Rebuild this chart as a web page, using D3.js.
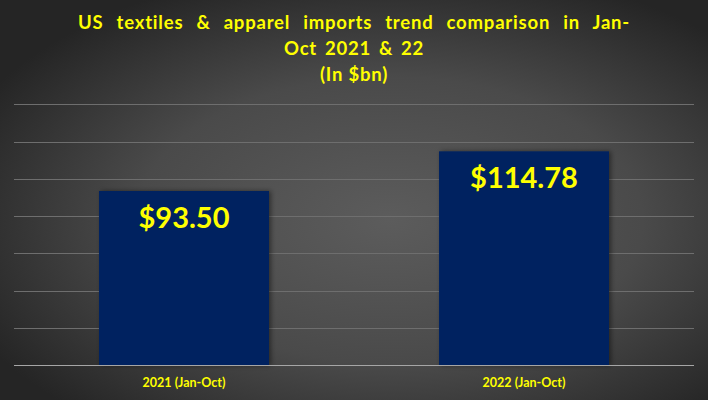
<!DOCTYPE html>
<html>
<head>
<meta charset="utf-8">
<script src="https://cdn.jsdelivr.net/npm/d3@7"></script>
<style>
  html, body { margin: 0; padding: 0; background: #333; }
  svg { display: block; }
</style>
</head>
<body>
<div id="chart"></div>
<script>
// Data
const categories = ["2021 (Jan-Oct)", "2022 (Jan-Oct)"];
const values = [93.50, 114.78];
const valueLabels = ["$93.50", "$114.78"];
const yTicks = [0, 20, 40, 60, 80, 100, 120, 140];
const titleLines = [
    "US textiles & apparel imports trend comparison in Jan-",
    "Oct 2021 & 22",
    "(In $bn)"
];
// approximate widths of the justified title lines in the original (0 = leave as is)
const titleWidths = [552, 140, 0];

const width = 708, height = 400;
const margin = { top: 104.3, right: 14, bottom: 34.7, left: 14 };
const yellow = "#ffff00";

const svg = d3.select("#chart")
    .append("svg")
    .attr("width", width)
    .attr("height", height);

// Background gradient
const defs = svg.append("defs");
const grad = defs.append("radialGradient")
    .attr("id", "bg")
    .attr("cx", "55%").attr("cy", "55%").attr("r", "65%");
grad.append("stop").attr("offset", "0%").attr("stop-color", "#5c5c5c");
grad.append("stop").attr("offset", "55%").attr("stop-color", "#4a4a4a");
grad.append("stop").attr("offset", "100%").attr("stop-color", "#252525");

const shadow = defs.append("filter").attr("id", "shadow")
    .attr("x", "-10%").attr("y", "-10%").attr("width", "120%").attr("height", "120%");
shadow.append("feDropShadow")
    .attr("dx", 2).attr("dy", 0).attr("stdDeviation", 2.5)
    .attr("flood-color", "#000").attr("flood-opacity", 0.45);

svg.append("rect")
    .attr("width", width).attr("height", height)
    .attr("fill", "url(#bg)");

// Scales
const x = d3.scaleBand()
    .domain(categories)
    .range([margin.left, width - margin.right])
    .paddingInner(0.5)
    .paddingOuter(0.25);

const y = d3.scaleLinear()
    .domain([0, 140])
    .range([height - margin.bottom, margin.top]);

// Gridlines
svg.append("g")
    .selectAll("line")
    .data(yTicks.slice(1))
    .enter()
    .append("line")
    .attr("x1", margin.left)
    .attr("x2", width - margin.right)
    .attr("y1", d => Math.round(y(d)) + 0.5)
    .attr("y2", d => Math.round(y(d)) + 0.5)
    .attr("stroke", "#6e6e6e")
    .attr("stroke-width", 1);

// Bars
svg.append("g")
    .selectAll("rect")
    .data(values)
    .enter()
    .append("rect")
    .attr("x", (d, i) => x(categories[i]))
    .attr("y", d => y(d))
    .attr("width", x.bandwidth())
    .attr("height", d => y(0) - y(d))
    .attr("fill", "#002060")
    .attr("filter", "url(#shadow)");

// Baseline
svg.append("line")
    .attr("x1", margin.left)
    .attr("x2", width - margin.right)
    .attr("y1", Math.round(y(0)) + 0.5)
    .attr("y2", Math.round(y(0)) + 0.5)
    .attr("stroke", "#a6a6a6")
    .attr("stroke-width", 1);

// Value labels inside bars
svg.append("g")
    .selectAll("text")
    .data(values)
    .enter()
    .append("text")
    .attr("x", (d, i) => x(categories[i]) + x.bandwidth() / 2)
    .attr("y", d => y(d) + 37)
    .attr("text-anchor", "middle")
    .attr("font-family", "Lato, 'Open Sans', sans-serif")
    .attr("font-weight", "bold")
    .attr("font-size", 29)
    .attr("fill", yellow)
    .text((d, i) => valueLabels[i]);

// Category labels
svg.append("g")
    .selectAll("text")
    .data(categories)
    .enter()
    .append("text")
    .attr("x", d => x(d) + x.bandwidth() / 2)
    .attr("y", 387)
    .attr("text-anchor", "middle")
    .attr("font-family", "Lato, 'Open Sans', sans-serif")
    .attr("font-weight", "bold")
    .attr("font-size", 12.5)
    .attr("fill", yellow)
    .text(d => d);

// Title (justified look: widen word spacing to fit the measured widths)
const titles = svg.append("g")
    .selectAll("text")
    .data(titleLines)
    .enter()
    .append("text")
    .attr("x", width / 2)
    .attr("y", (d, i) => 29 + i * 26)
    .attr("text-anchor", "middle")
    .attr("font-family", "Lato, 'Open Sans', sans-serif")
    .attr("font-weight", "bold")
    .attr("font-size", 18.5)
    .attr("letter-spacing", 0.8)
    .attr("fill", yellow)
    .text(d => d);

titles.each(function(d, i) {
    const natural = this.getComputedTextLength();
    const spaces = (d.match(/ /g) || []).length;
    if (titleWidths[i] > 0 && spaces > 0) {
        const ws = Math.max(0, (titleWidths[i] - natural) / spaces);
        d3.select(this).attr("word-spacing", ws);
    }
});
</script>
</body>
</html>
